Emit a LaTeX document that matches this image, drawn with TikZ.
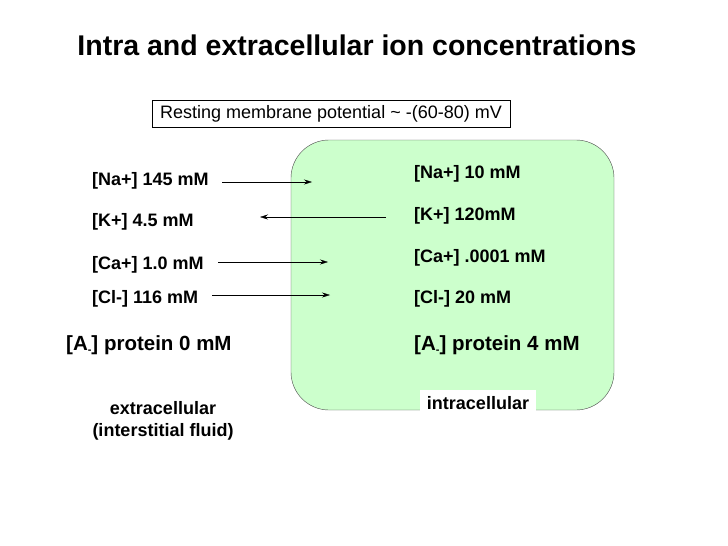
\documentclass[tikz,border=0pt]{standalone}
\usepackage{fontspec}
\setmainfont{Liberation Sans}
\usetikzlibrary{arrows.meta}
\newcommand{\Aminus}{[A\raisebox{-0.25ex}{\fontsize{11}{11}\selectfont -}]}
\begin{document}
\begin{tikzpicture}[x=1pt,y=-1pt,
  lab/.style={anchor=west,font=\bfseries\fontsize{18}{20}\selectfont,inner sep=0},
  big/.style={anchor=west,font=\bfseries\fontsize{20.5}{23}\selectfont,inner sep=0},
  arr/.style={-{Stealth[length=8pt,width=5pt]},thin}]
\useasboundingbox (0,0) rectangle (728,546);
\definecolor{cellg}{HTML}{CCFFCC}
\node (title) at (357,45) {\bfseries\fontsize{28.5}{32}\selectfont Intra and extracellular ion concentrations};
\node[draw,thin,minimum width=358,minimum height=27,font=\fontsize{18}{20}\selectfont] (rmp) at (331,114) {Resting membrane potential \textasciitilde{} -(60-80) mV};
\node[draw=black!70,fill=cellg,rounded corners=38,minimum width=323,minimum height=270] (cell) at (452.5,275) {};
\node[lab] (na1) at (92,181) {[Na+] 145 mM};
\node[lab] (k1) at (92,222) {[K+] 4.5 mM};
\node[lab] (ca1) at (92,265) {[Ca+] 1.0 mM};
\node[lab] (cl1) at (92,299) {[Cl-] 116 mM};
\node[big] (a1) at (66,345) {\Aminus{} protein 0 mM};
\node[lab] (na2) at (414,174) {[Na+] 10 mM};
\node[lab] (k2) at (414,216) {[K+] 120mM};
\node[lab] (ca2) at (414,258) {[Ca+] .0001 mM};
\node[lab] (cl2) at (414,299) {[Cl-] 20 mM};
\node[big] (a2) at (414,345) {\Aminus{} protein 4 mM};
\coordinate (p1) at (222,182); \coordinate (q1) at (312,182);
\coordinate (p2) at (386,217); \coordinate (q2) at (260,217);
\coordinate (p3) at (218,262); \coordinate (q3) at (328,262);
\coordinate (p4) at (212,295); \coordinate (q4) at (330,295);
\draw[arr] (p1) -- (q1);
\draw[arr] (p2) -- (q2);
\draw[arr] (p3) -- (q3);
\draw[arr] (p4) -- (q4);
\node[fill=white,minimum width=116,minimum height=26,font=\bfseries\fontsize{18}{20}\selectfont] (intra) at (478,403) {intracellular};
\node[align=center,font=\bfseries\fontsize{18}{22}\selectfont] (extra) at (163,421) {extracellular\\(interstitial fluid)};
\end{tikzpicture}
\end{document}
